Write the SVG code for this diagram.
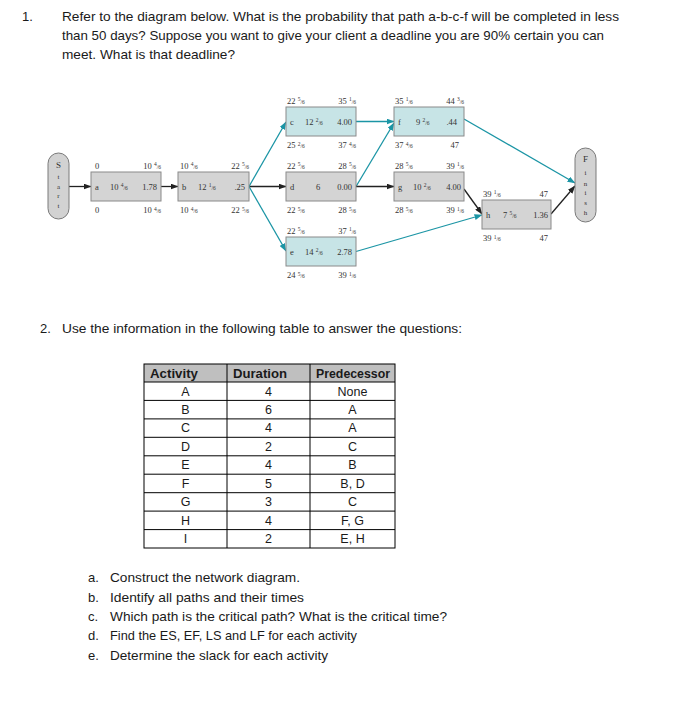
<svg xmlns="http://www.w3.org/2000/svg" width="689" height="726" viewBox="0 0 689 726">
<defs>
<marker id="ak" markerWidth="8" markerHeight="6" refX="7.5" refY="3" orient="auto" markerUnits="userSpaceOnUse"><path d="M0,0 L8,3 L0,6 Z" fill="#222"/></marker>
<marker id="at" markerWidth="8" markerHeight="6" refX="7.5" refY="3" orient="auto" markerUnits="userSpaceOnUse"><path d="M0,0 L8,3 L0,6 Z" fill="#1b95a5"/></marker>
<style>
.t{font-family:"Liberation Sans",Arial,sans-serif;font-size:13px;fill:#1a1a1a}
.tb{font-family:"Liberation Sans",Arial,sans-serif;font-size:12.5px;fill:#1a1a1a;text-anchor:middle}
.th{font-weight:bold;text-anchor:start}
.n{font-family:"Liberation Serif","DejaVu Serif",serif;font-size:8.5px;fill:#333}
.e{text-anchor:end}
.m{text-anchor:middle}
.s{font-size:5.5px}
.bx{fill:#d4d4d4;stroke:#8a8a8a;stroke-width:1}
.bt{fill:#c7e4e6;stroke:#8a8a8a;stroke-width:1}
.pill{fill:#d2d2d2;stroke:#7a7a7a;stroke-width:1}
.ck{stroke:#222;stroke-width:1.3;fill:none;marker-end:url(#ak)}
.ct{stroke:#1b95a5;stroke-width:1.3;fill:none;marker-end:url(#at)}
.pl{font-family:"Liberation Serif","DejaVu Serif",serif;font-size:7px;fill:#333;text-anchor:middle}
.grid{stroke:#000;stroke-width:1;fill:none}
</style>
</defs>
<rect width="689" height="726" fill="#fff"/>

<g id="question1">
<text class="t" x="22" y="21">1.</text>
<text class="t" x="62" y="21" textLength="557" lengthAdjust="spacingAndGlyphs">Refer to the diagram below. What is the probability that path a-b-c-f will be completed in less</text>
<text class="t" x="62" y="40" textLength="542" lengthAdjust="spacingAndGlyphs">than 50 days? Suppose you want to give your client a deadline you are 90% certain you can</text>
<text class="t" x="62" y="59" textLength="173" lengthAdjust="spacingAndGlyphs">meet. What is that deadline?</text>
</g>

<g id="connectors">
<path class="ck" d="M69,186.5 L91,186.5"/>
<path class="ck" d="M161,186.5 L178,186.5"/>
<path class="ck" d="M249,186.5 L286,186.5"/>
<path class="ct" d="M249,186.5 L286,122"/>
<path class="ct" d="M249,186.5 L286,251"/>
<path class="ct" d="M356,121.5 L394,121.5"/>
<path class="ct" d="M356,186.5 L394,123"/>
<path class="ck" d="M356,186.5 L394,186.5"/>
<path class="ck" d="M464,189 L482,214"/>
<path class="ct" d="M356,251.5 L482,215"/>
<path class="ct" d="M464,119 L575,183"/>
<path class="ck" d="M551,214 L575,186"/>
</g>

<g id="start">
<rect class="pill" x="48" y="153" width="21" height="66" rx="10.5"/>
<text class="pl" x="58.5" y="168" style="font-size:9px">S</text>
<text class="pl" x="58.5" y="179">t</text>
<text class="pl" x="58.5" y="189">a</text>
<text class="pl" x="58.5" y="198">r</text>
<text class="pl" x="58.5" y="208">t</text>
</g>

<g id="finish">
<rect class="pill" x="575" y="148" width="21" height="74" rx="10.5"/>
<text class="pl" x="585.5" y="162" style="font-size:9px">F</text>
<text class="pl" x="585.5" y="175">i</text>
<text class="pl" x="585.5" y="186">n</text>
<text class="pl" x="585.5" y="195">i</text>
<text class="pl" x="585.5" y="205">s</text>
<text class="pl" x="585.5" y="215">h</text>
</g>

<g id="node-a">
<rect class="bx" x="91" y="172" width="70" height="29"/>
<text class="n" x="95" y="168.5">0</text>
<text class="n e" x="161" y="168.5">10 <tspan class="s" dy="-2.5">4</tspan><tspan class="s" dy="2.5">/6</tspan></text>
<text class="n" x="95" y="189.5">a</text>
<text class="n" x="110" y="189.5">10 <tspan class="s" dy="-2.5">4</tspan><tspan class="s" dy="2.5">/6</tspan></text>
<text class="n e" x="157" y="189.5">1.78</text>
<text class="n" x="95" y="213">0</text>
<text class="n e" x="161" y="213">10 <tspan class="s" dy="-2.5">4</tspan><tspan class="s" dy="2.5">/6</tspan></text>
</g>

<g id="node-b">
<rect class="bx" x="178" y="172" width="71" height="29"/>
<text class="n" x="180" y="168.5">10 <tspan class="s" dy="-2.5">4</tspan><tspan class="s" dy="2.5">/6</tspan></text>
<text class="n e" x="249" y="168.5">22 <tspan class="s" dy="-2.5">5</tspan><tspan class="s" dy="2.5">/6</tspan></text>
<text class="n" x="182" y="189.5">b</text>
<text class="n" x="198" y="189.5">12 <tspan class="s" dy="-2.5">1</tspan><tspan class="s" dy="2.5">/6</tspan></text>
<text class="n e" x="245" y="189.5">.25</text>
<text class="n" x="180" y="213">10 <tspan class="s" dy="-2.5">4</tspan><tspan class="s" dy="2.5">/6</tspan></text>
<text class="n e" x="249" y="213">22 <tspan class="s" dy="-2.5">5</tspan><tspan class="s" dy="2.5">/6</tspan></text>
</g>

<g id="node-c">
<rect class="bt" x="286" y="107" width="70" height="29"/>
<text class="n" x="287" y="103.5">22 <tspan class="s" dy="-2.5">5</tspan><tspan class="s" dy="2.5">/6</tspan></text>
<text class="n e" x="356" y="103.5">35 <tspan class="s" dy="-2.5">1</tspan><tspan class="s" dy="2.5">/6</tspan></text>
<text class="n" x="290" y="124.5">c</text>
<text class="n" x="305" y="124.5">12 <tspan class="s" dy="-2.5">2</tspan><tspan class="s" dy="2.5">/6</tspan></text>
<text class="n e" x="352" y="124.5">4.00</text>
<text class="n" x="287" y="148">25 <tspan class="s" dy="-2.5">2</tspan><tspan class="s" dy="2.5">/6</tspan></text>
<text class="n e" x="356" y="148">37 <tspan class="s" dy="-2.5">4</tspan><tspan class="s" dy="2.5">/6</tspan></text>
</g>

<g id="node-d">
<rect class="bx" x="286" y="172" width="70" height="29"/>
<text class="n" x="287" y="168.5">22 <tspan class="s" dy="-2.5">5</tspan><tspan class="s" dy="2.5">/6</tspan></text>
<text class="n e" x="356" y="168.5">28 <tspan class="s" dy="-2.5">5</tspan><tspan class="s" dy="2.5">/6</tspan></text>
<text class="n" x="290" y="189.5">d</text>
<text class="n m" x="318" y="189.5">6</text>
<text class="n e" x="352" y="189.5">0.00</text>
<text class="n" x="287" y="213">22 <tspan class="s" dy="-2.5">5</tspan><tspan class="s" dy="2.5">/6</tspan></text>
<text class="n e" x="356" y="213">28 <tspan class="s" dy="-2.5">5</tspan><tspan class="s" dy="2.5">/6</tspan></text>
</g>

<g id="node-e">
<rect class="bt" x="286" y="237" width="70" height="29"/>
<text class="n" x="287" y="233.5">22 <tspan class="s" dy="-2.5">5</tspan><tspan class="s" dy="2.5">/6</tspan></text>
<text class="n e" x="356" y="233.5">37 <tspan class="s" dy="-2.5">1</tspan><tspan class="s" dy="2.5">/6</tspan></text>
<text class="n" x="290" y="254.5">e</text>
<text class="n" x="305" y="254.5">14 <tspan class="s" dy="-2.5">2</tspan><tspan class="s" dy="2.5">/6</tspan></text>
<text class="n e" x="352" y="254.5">2.78</text>
<text class="n" x="287" y="278">24 <tspan class="s" dy="-2.5">5</tspan><tspan class="s" dy="2.5">/6</tspan></text>
<text class="n e" x="356" y="278">39 <tspan class="s" dy="-2.5">1</tspan><tspan class="s" dy="2.5">/6</tspan></text>
</g>

<g id="node-f">
<rect class="bt" x="394" y="107" width="70" height="29"/>
<text class="n" x="395" y="103.5">35 <tspan class="s" dy="-2.5">1</tspan><tspan class="s" dy="2.5">/6</tspan></text>
<text class="n e" x="464" y="103.5">44 <tspan class="s" dy="-2.5">3</tspan><tspan class="s" dy="2.5">/6</tspan></text>
<text class="n" x="398" y="124.5">f</text>
<text class="n" x="416" y="124.5">9 <tspan class="s" dy="-2.5">2</tspan><tspan class="s" dy="2.5">/6</tspan></text>
<text class="n e" x="457" y="124.5">.44</text>
<text class="n" x="395" y="148">37 <tspan class="s" dy="-2.5">4</tspan><tspan class="s" dy="2.5">/6</tspan></text>
<text class="n e" x="459" y="148">47</text>
</g>

<g id="node-g">
<rect class="bx" x="394" y="172" width="70" height="29"/>
<text class="n" x="395" y="168.5">28 <tspan class="s" dy="-2.5">5</tspan><tspan class="s" dy="2.5">/6</tspan></text>
<text class="n e" x="464" y="168.5">39 <tspan class="s" dy="-2.5">1</tspan><tspan class="s" dy="2.5">/6</tspan></text>
<text class="n" x="398" y="189.5">g</text>
<text class="n" x="413" y="189.5">10 <tspan class="s" dy="-2.5">2</tspan><tspan class="s" dy="2.5">/6</tspan></text>
<text class="n e" x="461" y="189.5">4.00</text>
<text class="n" x="395" y="213">28 <tspan class="s" dy="-2.5">5</tspan><tspan class="s" dy="2.5">/6</tspan></text>
<text class="n e" x="464" y="213">39 <tspan class="s" dy="-2.5">1</tspan><tspan class="s" dy="2.5">/6</tspan></text>
</g>

<g id="node-h">
<rect class="bx" x="482" y="200" width="69" height="29"/>
<text class="n" x="483" y="196.5">39 <tspan class="s" dy="-2.5">1</tspan><tspan class="s" dy="2.5">/6</tspan></text>
<text class="n e" x="548" y="196.5">47</text>
<text class="n" x="486" y="217.5">h</text>
<text class="n" x="503" y="217.5">7 <tspan class="s" dy="-2.5">5</tspan><tspan class="s" dy="2.5">/6</tspan></text>
<text class="n e" x="548" y="217.5">1.36</text>
<text class="n" x="483" y="241">39 <tspan class="s" dy="-2.5">1</tspan><tspan class="s" dy="2.5">/6</tspan></text>
<text class="n e" x="548" y="241">47</text>
</g>

<g id="question2">
<text class="t" x="40" y="333">2.</text>
<text class="t" x="62" y="333" textLength="400" lengthAdjust="spacingAndGlyphs">Use the information in the following table to answer the questions:</text>
</g>

<g id="table">
<rect x="144" y="364" width="251" height="18" fill="#bfbfbf"/>
<rect class="grid" x="144" y="364" width="251" height="184"/>
<path class="grid" d="M227,364 V548 M310,364 V548 M144,382 H395 M144,400.4 H395 M144,418.9 H395 M144,437.3 H395 M144,455.8 H395 M144,474.2 H395 M144,492.7 H395 M144,511.1 H395 M144,529.6 H395"/>
<text class="tb th" x="150" y="377.5" textLength="48" lengthAdjust="spacingAndGlyphs">Activity</text>
<text class="tb th" x="233" y="377.5" textLength="54" lengthAdjust="spacingAndGlyphs">Duration</text>
<text class="tb th" x="316" y="377.5" textLength="74" lengthAdjust="spacingAndGlyphs">Predecessor</text>
<text class="tb" x="185.5" y="395.5">A</text><text class="tb" x="268.5" y="395.5">4</text><text class="tb" x="352.5" y="395.5">None</text>
<text class="tb" x="185.5" y="414">B</text><text class="tb" x="268.5" y="414">6</text><text class="tb" x="352.5" y="414">A</text>
<text class="tb" x="185.5" y="432.4">C</text><text class="tb" x="268.5" y="432.4">4</text><text class="tb" x="352.5" y="432.4">A</text>
<text class="tb" x="185.5" y="450.9">D</text><text class="tb" x="268.5" y="450.9">2</text><text class="tb" x="352.5" y="450.9">C</text>
<text class="tb" x="185.5" y="469.3">E</text><text class="tb" x="268.5" y="469.3">4</text><text class="tb" x="352.5" y="469.3">B</text>
<text class="tb" x="185.5" y="487.8">F</text><text class="tb" x="268.5" y="487.8">5</text><text class="tb" x="352.5" y="487.8">B, D</text>
<text class="tb" x="185.5" y="506.2">G</text><text class="tb" x="268.5" y="506.2">3</text><text class="tb" x="352.5" y="506.2">C</text>
<text class="tb" x="185.5" y="524.7">H</text><text class="tb" x="268.5" y="524.7">4</text><text class="tb" x="352.5" y="524.7">F, G</text>
<text class="tb" x="185.5" y="543.1">I</text><text class="tb" x="268.5" y="543.1">2</text><text class="tb" x="352.5" y="543.1">E, H</text>
</g>

<g id="tasks">
<text class="t" x="88" y="582">a.</text><text class="t" x="110" y="582" textLength="190" lengthAdjust="spacingAndGlyphs">Construct the network diagram.</text>
<text class="t" x="88" y="602">b.</text><text class="t" x="110" y="602" textLength="194" lengthAdjust="spacingAndGlyphs">Identify all paths and their times</text>
<text class="t" x="88" y="621">c.</text><text class="t" x="110" y="621" textLength="337" lengthAdjust="spacingAndGlyphs">Which path is the critical path? What is the critical time?</text>
<text class="t" x="88" y="640">d.</text><text class="t" x="110" y="640" textLength="247" lengthAdjust="spacingAndGlyphs">Find the ES, EF, LS and LF for each activity</text>
<text class="t" x="88" y="660">e.</text><text class="t" x="110" y="660" textLength="218" lengthAdjust="spacingAndGlyphs">Determine the slack for each activity</text>
</g>
</svg>
